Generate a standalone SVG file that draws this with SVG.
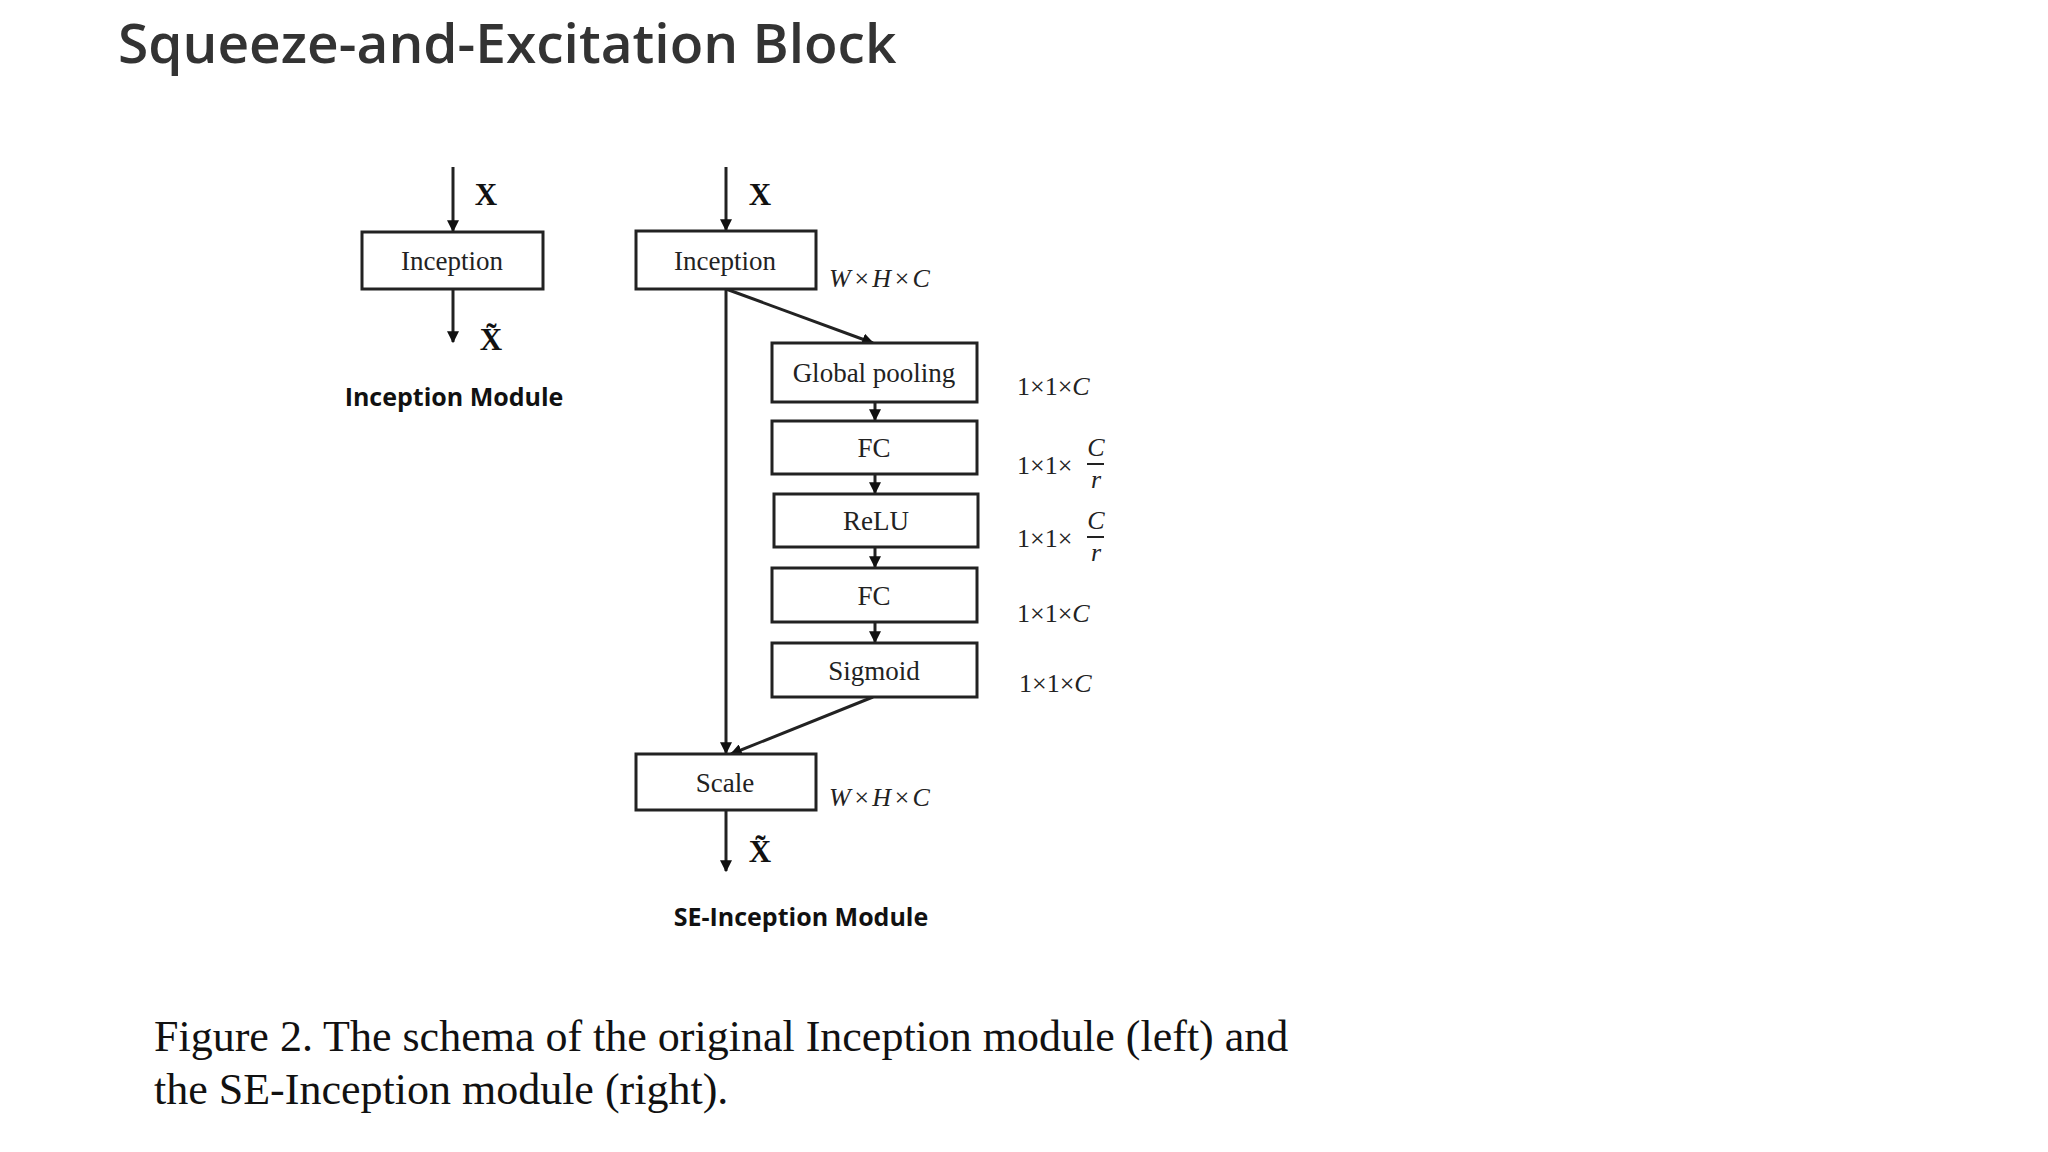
<svg xmlns="http://www.w3.org/2000/svg" width="2048" height="1152" viewBox="0 0 2048 1152">
<defs>
<marker id="ah" viewBox="0 0 10 10" refX="9" refY="5" markerWidth="4" markerHeight="4" orient="auto"><path d="M0,0 L10,5 L0,10 z" fill="#111"/></marker>
</defs>
<style>
.box{fill:#fff;stroke:#222;stroke-width:3}
.t{font-family:"Liberation Serif",serif;font-size:27px;fill:#222;text-anchor:middle}
.x{font-family:"Liberation Serif",serif;font-size:31px;font-weight:bold;fill:#111;text-anchor:middle}
.dim{font-family:"Liberation Serif",serif;font-size:26px;fill:#222}
.it{font-style:italic}
.mod{font-family:"Open Sans","Noto Sans",sans-serif;font-size:25px;font-weight:bold;fill:#111;text-anchor:middle}
.ln{stroke:#222;stroke-width:3;fill:none}
.cap{font-family:"Liberation Serif",serif;font-size:44px;fill:#111}
</style>
<rect width="2048" height="1152" fill="#fff"/>
<text x="118" y="63" font-family="Open Sans,Noto Sans,sans-serif" font-size="55" font-weight="600" fill="#333">Squeeze-and-Excitation Block</text>
<g id="connectors">
<line class="ln" x1="453" y1="167" x2="453" y2="231" marker-end="url(#ah)"/>
<line class="ln" x1="453" y1="289" x2="453" y2="342" marker-end="url(#ah)"/>
<line class="ln" x1="726" y1="167" x2="726" y2="230" marker-end="url(#ah)"/>
<line class="ln" x1="726" y1="289" x2="726" y2="753" marker-end="url(#ah)"/>
<line class="ln" x1="726" y1="289" x2="873" y2="343" marker-end="url(#ah)"/>
<line class="ln" x1="875" y1="402" x2="875" y2="420" marker-end="url(#ah)"/>
<line class="ln" x1="875" y1="474" x2="875" y2="493" marker-end="url(#ah)"/>
<line class="ln" x1="875" y1="547" x2="875" y2="567" marker-end="url(#ah)"/>
<line class="ln" x1="875" y1="622" x2="875" y2="642" marker-end="url(#ah)"/>
<line class="ln" x1="873" y1="697" x2="731" y2="754" marker-end="url(#ah)"/>
<line class="ln" x1="726" y1="810" x2="726" y2="871" marker-end="url(#ah)"/>
</g>
<g id="left-inception"><rect class="box" x="362" y="232" width="181" height="57"/><text class="t" x="452" y="270">Inception</text></g>
<text class="x" x="486" y="205">X</text>
<text class="x" x="491" y="350">X̃</text>
<text class="mod" x="454" y="406">Inception Module</text>
<g id="se-inception"><rect class="box" x="636" y="231" width="180" height="58"/><text class="t" x="725" y="270">Inception</text></g>
<text class="x" x="760" y="205">X</text>
<text class="dim it" x="829" y="287" letter-spacing="2">W×H×C</text>
<g id="global-pooling"><rect class="box" x="772" y="343" width="205" height="59"/><text class="t" x="874" y="382">Global pooling</text></g>
<text class="dim" x="1017" y="395">1×1×<tspan class="it">C</tspan></text>
<g id="fc1"><rect class="box" x="772" y="421" width="205" height="53"/><text class="t" x="874" y="457">FC</text></g>
<text class="dim" x="1017" y="474">1×1×</text>
<text class="dim it" x="1096" y="456" text-anchor="middle">C</text>
<line x1="1087" y1="464" x2="1104" y2="464" stroke="#222" stroke-width="2"/>
<text class="dim it" x="1096" y="488" text-anchor="middle">r</text>
<g id="relu"><rect class="box" x="774" y="494" width="204" height="53"/><text class="t" x="876" y="530">ReLU</text></g>
<text class="dim" x="1017" y="547">1×1×</text>
<text class="dim it" x="1096" y="529" text-anchor="middle">C</text>
<line x1="1087" y1="537" x2="1104" y2="537" stroke="#222" stroke-width="2"/>
<text class="dim it" x="1096" y="561" text-anchor="middle">r</text>
<g id="fc2"><rect class="box" x="772" y="568" width="205" height="54"/><text class="t" x="874" y="605">FC</text></g>
<text class="dim" x="1017" y="622">1×1×<tspan class="it">C</tspan></text>
<g id="sigmoid"><rect class="box" x="772" y="643" width="205" height="54"/><text class="t" x="874" y="680">Sigmoid</text></g>
<text class="dim" x="1019" y="692">1×1×<tspan class="it">C</tspan></text>
<g id="scale"><rect class="box" x="636" y="754" width="180" height="56"/><text class="t" x="725" y="792">Scale</text></g>
<text class="dim it" x="829" y="806" letter-spacing="2">W×H×C</text>
<text class="x" x="760" y="862">X̃</text>
<text class="mod" x="801" y="926">SE-Inception Module</text>
<text class="cap" x="154" y="1051">Figure 2. The schema of the original Inception module (left) and</text>
<text class="cap" x="154" y="1104">the SE-Inception module (right).</text>
</svg>
